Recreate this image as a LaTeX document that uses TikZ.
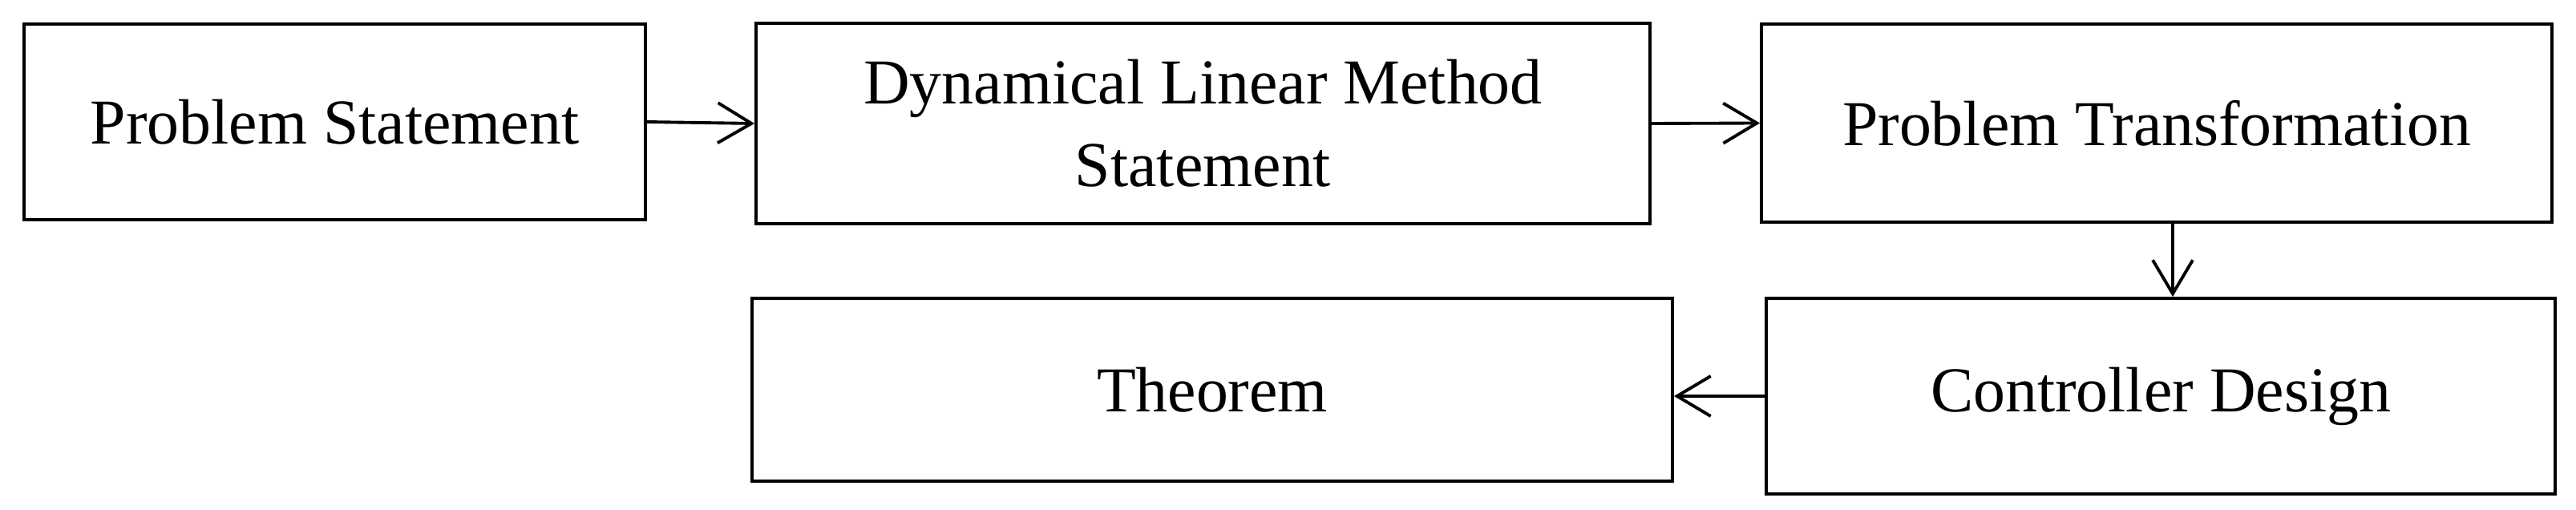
\documentclass[tikz,border=0pt]{standalone}
\usepackage{fontspec}
\setmainfont{Liberation Serif}
\usetikzlibrary{arrows.meta}

\begin{document}
\begin{tikzpicture}[block/.style = {draw, line width = 1.1pt, inner sep = 0pt, align = center, font = \fontsize{22.7}{29.3}\selectfont}, arr/.style = {-{Straight Barb[length = 0.42cm, width = 0.5cm]}, line width = 1.1pt}]

\useasboundingbox (0, 0) rectangle (32.13, 6.35);

 \node[block, minimum width = 7.75cm, minimum height = 2.44cm] (statement) at (4.175, 4.83) {Problem Statement};
 \node[block, minimum width = 11.15cm, minimum height = 2.50cm] (method) at (15.005, 4.81) {Dynamical Linear Method\\Statement};
 \node[block, minimum width = 9.86cm, minimum height = 2.47cm] (transform) at (26.90, 4.815) {Problem Transformation};
 \node[block, minimum width = 9.84cm, minimum height = 2.44cm] (controller) at (26.95, 1.41) {Controller Design};
 \node[block, minimum width = 11.48cm, minimum height = 2.28cm] (theorem) at (15.12, 1.49) {Theorem};

  \draw[arr] (statement.east) -- (method.west);
  \draw[arr] (method.east) -- (transform.west);
  \draw[arr] ([xshift = 0.2cm]transform.south) -- ([xshift = 0.2cm]transform.south |- controller.north);
  \draw[arr] (controller.west) -- (controller.west -| theorem.east);
\end{tikzpicture}
\end{document}
